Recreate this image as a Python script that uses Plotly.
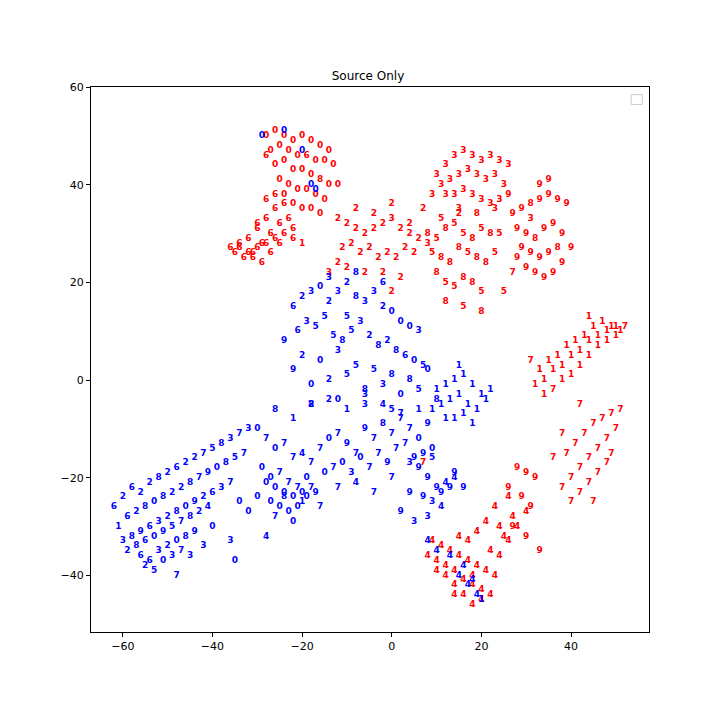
import plotly.graph_objects as go

# Red (source) clusters
r0_x = [-28,-26,-24,-22,-20,-18,-16,-14,-27,-25,-23,-21,-19,-17,-15,-13,-26,-24,-22,-20,-18,-16,-14,-25,-23,-21,-19,-17,-15,-22,-20,-18,-16,-12,-28,-24]
r0_y = [50,51,50,49,50,49,48,47,47,48,47,46,46,45,45,44,44,45,43,43,42,41,40,41,40,39,39,38,37,36,35,35,34,40,46,38]
r0_l = "000000000000600000000800000000000060"
r6_x = [-36,-34,-32,-30,-28,-26,-24,-22,-35,-33,-31,-29,-27,-25,-23,-34,-32,-30,-28,-26,-24,-31,-29,-27,-25,-28,-26,-30,-22,-20]
r6_y = [27,28,26,27,28,29,30,31,26,25,26,28,30,32,33,27,29,31,33,35,36,25,24,26,28,37,38,32,29,28]
r6_l = "666666666666666666666666666661"
r2_x = [-12,-10,-8,-6,-4,-2,0,2,4,6,8,-11,-9,-7,-5,-3,-1,1,3,5,-10,-6,-2,2,-8,-4,0,-12,-14,0,4,7]
r2_y = [33,32,31,30,31,32,33,31,30,29,28,27,28,26,27,25,26,25,27,26,23,22,22,21,35,34,36,24,22,18,32,35]
r2_l = "22222232223222222222222222223222"
r3_x = [10,12,14,16,18,20,22,24,11,13,15,17,19,21,23,25,12,14,16,18,20,22,24,9,26,15,19,23]
r3_y = [42,44,46,47,46,45,46,45,40,41,42,43,42,41,42,40,38,38,39,38,37,36,37,38,44,35,34,35]
r3_l = "3333333333333333333333333383"
r5_x = [8,10,12,14,16,18,20,22,9,11,13,15,17,19,21,23,10,12,14,16,18,20,12,16,20,25,27,11,15,24]
r5_y = [30,29,31,32,30,29,31,30,26,25,24,27,26,25,24,26,22,20,19,21,20,18,16,15,14,18,22,33,34,30]
r5_l = "858558585888588585588585857525"
r9_x = [27,29,31,33,35,37,39,28,30,32,34,36,38,29,31,33,35,37,30,32,34,36,38,33,35,31,40,26,28]
r9_y = [34,35,36,37,38,37,36,31,30,29,31,32,30,27,26,25,26,27,23,22,21,22,24,40,41,33,27,38,25]
r9_l = "99899999989999999899999993999"
r1_x = [32,34,36,38,40,42,44,46,48,50,52,33,35,37,39,41,43,45,47,49,51,34,36,38,40,42,44,46,48,50,31,44]
r1_y = [-1,0,2,3,5,6,8,9,10,11,11,2,4,5,7,8,9,11,12,11,10,-3,-2,0,1,3,5,7,8,9,4,13]
r1_l = "11111111117111111111117111111171"
r7_x = [38,40,42,44,46,48,50,39,41,43,45,47,49,51,40,42,44,46,48,38,45,49,36,42]
r7_y = [-22,-20,-18,-16,-14,-12,-10,-15,-13,-11,-9,-8,-7,-6,-25,-23,-21,-19,-17,-11,-25,-15,-16,-5]
r7_l = "777777777777777777777777"
r4_x = [8,10,12,14,16,18,20,22,24,26,28,30,9,11,13,15,17,19,21,23,25,27,10,12,14,16,18,20,22,24,15,17,19,21,23,26,14,18]
r4_y = [-36,-37,-38,-39,-41,-42,-43,-44,-36,-33,-30,-27,-33,-34,-35,-36,-37,-38,-39,-40,-32,-28,-39,-40,-42,-44,-46,-45,-35,-30,-32,-33,-31,-29,-26,-24,-44,-40]
r4_l = "44444444444444444444444444444444444444"
r9b_x = [28,30,32,26,29,31,27,30,33,7]
r9b_y = [-18,-19,-20,-22,-24,-26,-30,-32,-35,-17]
r9b_l = "9999999997"

# Blue (target) clusters
b0_x = [-29,-24,-20,-18,-17]
b0_y = [50,51,47,40,39]
b0_l = "00000"
bu_x = [-22,-20,-18,-16,-14,-12,-10,-8,-6,-4,-2,0,2,4,6,-21,-19,-17,-15,-13,-11,-9,-7,-5,-3,-1,1,3,5,7,-20,-16,-12,-8,-4,0,4,8,-18,-14,-10,-6,-2,2,6,10,-24,-22,-14,-8,-2,-12,-6,0,-18,-10]
bu_y = [15,17,18,19,16,18,20,17,16,18,15,14,12,11,10,10,12,11,13,9,8,10,12,9,7,8,6,5,4,3,5,4,6,3,2,1,0,2,-1,0,1,-2,-1,-3,-2,-4,8,2,21,22,20,-4,-5,-6,-5,13]
bu_l = "62302328332000363555853282860520355880025830589938603525"
b1_x = [10,12,14,16,18,20,11,13,15,17,19,21,14,16,18,12,9,22,15]
b1_y = [-2,-1,0,1,-1,-3,-5,-4,-3,-5,-6,-4,-8,-7,-9,-8,-6,-2,3]
b1_l = "1111111111111111111"
bm_x = [-30,-28,-26,-24,-22,-20,-18,-16,-14,-12,-10,-8,-6,-4,-2,0,2,4,6,8,-29,-27,-25,-23,-21,-19,-17,-15,-13,-11,-9,-7,-5,-3,-1,1,3,5,7,9,-26,-22,-18,-14,-10,-6,-2,2,6,-24,-20,-16,-12,-8,-4,0]
bm_y = [-10,-12,-14,-13,-16,-15,-17,-14,-12,-11,-13,-15,-10,-12,-9,-11,-8,-10,-12,-9,-18,-20,-19,-21,-22,-20,-23,-19,-18,-17,-19,-16,-18,-15,-17,-14,-13,-16,-15,-14,-6,-8,-5,-4,-6,-3,-5,-7,-6,-24,-25,-26,-22,-21,-23,-20]
bm_l = "07077477079797877709007770907030779779908182134718177477"
b9_x = [6,8,10,12,14,4,7,9,11,13,2,5,8,11,14,16,4,9]
b9_y = [-18,-20,-22,-21,-19,-23,-24,-25,-23,-22,-27,-29,-28,-26,-20,-22,-17,-16]
b9_l = "999499939993344935"
b4_x = [15,17,19,16,18,20,13,8,10]
b4_y = [-40,-42,-44,-38,-41,-45,-36,-33,-35]
b4_l = "444441444"
bl_x = [-62,-60,-58,-56,-54,-52,-50,-48,-46,-44,-42,-40,-38,-36,-34,-32,-61,-59,-57,-55,-53,-51,-49,-47,-45,-43,-41,-39,-37,-35,-33,-60,-58,-56,-54,-52,-50,-48,-46,-44,-42,-40,-38,-36,-59,-57,-55,-53,-51,-49,-47,-45,-43,-41,-56,-54,-52,-50,-48,-46,-44,-55,-53,-51,-49,-47,-45,-58,-53,-48,-43,-38,-33,-28,-48,-45,-42,-40]
bl_y = [-26,-24,-22,-23,-21,-20,-19,-18,-17,-16,-15,-14,-13,-12,-11,-10,-30,-28,-27,-26,-25,-24,-23,-22,-21,-20,-19,-18,-17,-16,-15,-33,-32,-31,-30,-29,-28,-27,-26,-25,-24,-23,-22,-21,-35,-34,-33,-32,-31,-30,-29,-28,-27,-26,-36,-37,-35,-34,-33,-32,-31,-38,-39,-37,-36,-35,-34,-29,-27,-25,-23,-20,-19,-32,-10,-8,-6,-4]
bl_l = "626228262275837316280822879085738963280926372860957824663208925037"
bd_x = [-28,-26,-24,-22,-20,-18,-27,-25,-23,-21,-19,-26,-22,-34,-32,-30,-40,-36,-35,-48,-42,-45,-28]
bd_y = [-21,-22,-23,-24,-23,-22,-25,-26,-27,-26,-24,-28,-29,-25,-27,-24,-30,-33,-37,-40,-34,-36,-32]
bd_l = "00000700000700000307334"

red = [(r0_x,r0_y,r0_l),(r6_x,r6_y,r6_l),(r2_x,r2_y,r2_l),(r3_x,r3_y,r3_l),(r5_x,r5_y,r5_l),
       (r9_x,r9_y,r9_l),(r1_x,r1_y,r1_l),(r7_x,r7_y,r7_l),(r4_x,r4_y,r4_l),(r9b_x,r9b_y,r9b_l)]
blue = [(b0_x,b0_y,b0_l),(bu_x,bu_y,bu_l),(b1_x,b1_y,b1_l),(bm_x,bm_y,bm_l),(b9_x,b9_y,b9_l),
        (b4_x,b4_y,b4_l),(bl_x,bl_y,bl_l),(bd_x,bd_y,bd_l)]

fig = go.Figure()
for groups, col in ((red, "red"), (blue, "blue")):
    for xs, ys, ls in groups:
        n = min(len(xs), len(ys), len(ls))
        fig.add_trace(go.Scatter(x=xs[:n], y=ys[:n], text=list(ls[:n]), mode="text",
                                 textfont=dict(color=col, size=9, family="DejaVu Sans", weight="bold"),
                                 showlegend=False, hoverinfo="skip"))

ax = dict(showgrid=False, zeroline=False, showline=True, linecolor="black", mirror=True,
          ticks="outside", ticklen=4, tickcolor="black", dtick=20,
          tickfont=dict(family="DejaVu Sans", size=11, color="black"))
fig.update_layout(width=720, height=720, plot_bgcolor="white", paper_bgcolor="white",
                  margin=dict(l=83, r=79, t=79, b=96),
                  title=dict(text="Source Only", x=0.5, xanchor="center", y=0.9, yanchor="bottom",
                             font=dict(family="DejaVu Sans", size=12, color="black")),
                  xaxis=dict(range=[-67.1, 57.4], **ax), yaxis=dict(range=[-51.6, 60], **ax),
                  shapes=[dict(type="rect", xref="paper", yref="paper", x0=0.968, x1=0.988, y0=0.968, y1=0.986,
                               line=dict(color="#cccccc", width=1), fillcolor="white")])
fig.write_html("out.html")
